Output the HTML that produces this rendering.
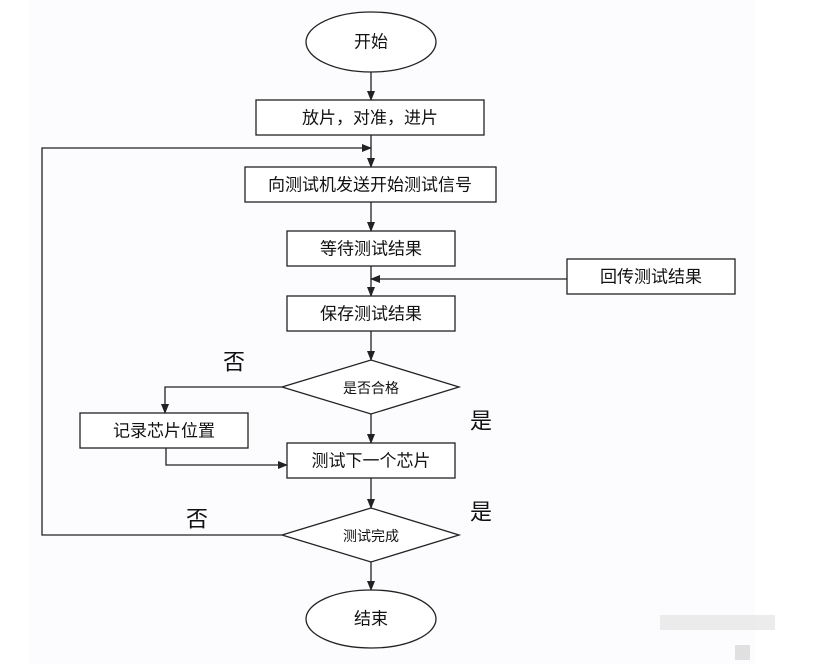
<!DOCTYPE html>
<html><head><meta charset="utf-8"><style>
html,body{margin:0;padding:0;background:#fff;}
svg text{font-family:"Liberation Sans","Noto Sans CJK SC",sans-serif;fill:#111;text-anchor:middle;dominant-baseline:central;}
</style></head><body>
<svg width="822" height="664" viewBox="0 0 822 664" xmlns="http://www.w3.org/2000/svg">
<defs><marker id="a" markerWidth="10" markerHeight="8" refX="9" refY="4" orient="auto" markerUnits="userSpaceOnUse"><path d="M0,0 L10,4 L0,8 z" fill="#222"/></marker></defs>
<rect x="30" y="0" width="725" height="664" fill="#fcfbfd"/>
<rect x="660" y="615" width="115" height="15" fill="#e4e4e4" opacity="0.7"/>
<rect x="735" y="645" width="15" height="15" fill="#e0e0e0"/>
<g stroke="#222" stroke-width="1.3" fill="#fff">
<ellipse cx="371" cy="42" rx="65" ry="30"/>
<rect x="256" y="100" width="228" height="35"/>
<rect x="245" y="167" width="251" height="35"/>
<rect x="287" y="231" width="168" height="35"/>
<rect x="567" y="259" width="168" height="35"/>
<rect x="287" y="296" width="168" height="35"/>
<polygon points="282,387 371,360 459,387 371,414"/>
<rect x="80" y="413" width="168" height="35"/>
<rect x="287" y="443" width="168" height="35"/>
<polygon points="282,535 371,508 459,535 371,562"/>
<ellipse cx="371" cy="619" rx="65" ry="29"/>
</g>
<g stroke="#222" stroke-width="1.3" fill="none" marker-end="url(#a)">
<line x1="371" y1="72" x2="371" y2="100"/>
<line x1="371" y1="135" x2="371" y2="167"/>
<line x1="371" y1="202" x2="371" y2="231"/>
<line x1="371" y1="266" x2="371" y2="296"/>
<line x1="567" y1="279" x2="371" y2="279"/>
<line x1="371" y1="331" x2="371" y2="360"/>
<line x1="371" y1="414" x2="371" y2="443"/>
<polyline points="282,387 165,387 165,413"/>
<polyline points="166,448 166,465 287,465"/>
<line x1="371" y1="478" x2="371" y2="508"/>
<line x1="371" y1="562" x2="371" y2="590"/>
<polyline points="282,535 42,535 42,148 371,148"/>
</g>
<text x="371" y="42" font-size="17">开始</text>
<text x="370" y="118" font-size="17">放片，对准，进片</text>
<text x="370" y="185" font-size="17">向测试机发送开始测试信号</text>
<text x="371" y="249" font-size="17">等待测试结果</text>
<text x="651" y="277" font-size="17">回传测试结果</text>
<text x="371" y="314" font-size="17">保存测试结果</text>
<text x="371" y="388" font-size="14">是否合格</text>
<text x="164" y="431" font-size="17">记录芯片位置</text>
<text x="371" y="461" font-size="17">测试下一个芯片</text>
<text x="371" y="536" font-size="14">测试完成</text>
<text x="371" y="619" font-size="17">结束</text>
<text x="234" y="362" font-size="22">否</text>
<text x="481" y="421" font-size="22">是</text>
<text x="481" y="512" font-size="22">是</text>
<text x="197" y="519" font-size="22">否</text>
</svg>
</body></html>
